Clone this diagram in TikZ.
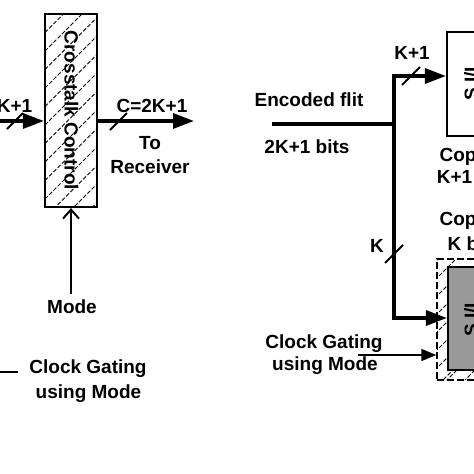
\documentclass[tikz,border=0pt]{standalone}
\usepackage{fontspec}
\setmainfont{Liberation Sans}
\usetikzlibrary{arrows.meta}
\begin{document}
\begin{tikzpicture}[x=1pt,y=-1pt,
  lbl/.style={font=\fontsize{19}{22}\selectfont\bfseries, inner sep=0pt, text height=13.6pt, text depth=0pt},
  bus/.style={line width=3.2pt},
  tip/.style={-{Triangle[length=21pt,width=15pt]}},
  smalltip/.style={-{Triangle[length=15pt,width=12pt]}},
  barb/.style={-{Straight Barb[length=9pt,width=16pt]}},
  busmark/.style={line width=1.8pt},
  box/.style={draw, line width=2.2pt, inner sep=0pt},
  hatch/.style={line width=0.9pt, dash pattern=on 4pt off 2pt}]
\useasboundingbox (0,0) rectangle (474,474);

% ---------- left: crosstalk control ----------
\begin{scope}
  \clip (45,14) rectangle (97,207);
  \foreach \i in {0,...,14} \draw[hatch] (45,14+\i*18.5) -- ++(70,-70);
\end{scope}
\node[box, minimum width=52pt, minimum height=193pt] (ct) at (71,110.5) {};
\node[lbl, rotate=-90] (ctlbl) at (71.5,110.5) {Crosstalk Control};

\coordinate (inL) at (0,121);
\coordinate (outR) at (194,121);
\draw[bus,tip] (inL) -- (ct.west |- inL);
\draw[bus,tip] (ct.east |- outR) -- (outR);
\draw[busmark] (7,129) -- (23,113);
\draw[busmark] (110,130) -- (127,113);
\node[lbl] (kin) at (14.5,106) {K+1};
\node[lbl] (cout) at (152,106) {C=2K+1};
\node[lbl] (to) at (150,143) {To};
\node[lbl] (recv) at (150,167) {Receiver};

\node[lbl] (mode) at (72,307) {Mode};
\coordinate (modetop) at (71,294);
\draw[line width=2pt, barb] (modetop) -- (ct.south);

\coordinate (cgl) at (0,372);
\coordinate (cgr) at (18,372);
\draw[line width=2pt] (cgl) -- (cgr);
\node[lbl] (cg1) at (88,367) {Clock Gating};
\node[lbl] (cg2) at (88.5,392) {using Mode};

% ---------- right ----------
\node[lbl] (ef) at (309,100) {Encoded flit};
\node[lbl] (bits) at (307,147) {2K+1 bits};

\node[box, fill=white, minimum width=60pt, minimum height=104pt] (topbox) at (477,84) {};
\node[lbl, rotate=90] (toptxt) at (471,84) {S.I/I};

\node[draw, line width=1.4pt, dash pattern=on 7pt off 3pt, minimum width=83pt, minimum height=121pt, inner sep=0pt] (frame) at (478.5,319.5) {};
\begin{scope}[even odd rule]
  \clip (437,259) rectangle (520,380) (448,267) rectangle (520,370);
  \foreach \i in {0,...,9} \draw[hatch] (435,262+\i*18) -- ++(22,-22);
  \foreach \i in {0,...,5} \draw[hatch] (437+\i*18,390) -- ++(22,-22);
\end{scope}
\node[box, fill=black!40, minimum width=60pt, minimum height=103pt] (botbox) at (478,318.5) {};
\node[lbl, rotate=90] (bottxt) at (471,320) {S.I/I};

\coordinate (efs) at (272,124);
\coordinate (j) at (394,124);
\coordinate (jt) at (394,76);
\coordinate (jb) at (394,318);
\draw[bus] (efs) -- (j);
\draw[bus,tip] (j) -- (jt) -- (topbox.west |- jt);
\draw[bus,tip] (j) -- (jb) -- (botbox.west |- jb);
\draw[busmark] (402,85) -- (420,67);
\draw[busmark] (385,263) -- (403,245);
\node[lbl] (k1) at (412,53) {K+1};
\node[lbl] (k) at (377,246) {K};

\node[lbl] (c1a) at (475,155) {Copy of};
\node[lbl] (c1b) at (474,177) {K+1 bits};
\node[lbl] (c2a) at (475,219) {Copy of};
\node[lbl] (c2b) at (474,244) {K bits};

\node[lbl] (rcg1) at (324,342) {Clock Gating};
\node[lbl] (rcg2) at (325,364) {using Mode};
\coordinate (rcgs) at (358,355);
\draw[line width=1.5pt, smalltip] (rcgs) -- (frame.west |- rcgs);
\end{tikzpicture}
\end{document}
